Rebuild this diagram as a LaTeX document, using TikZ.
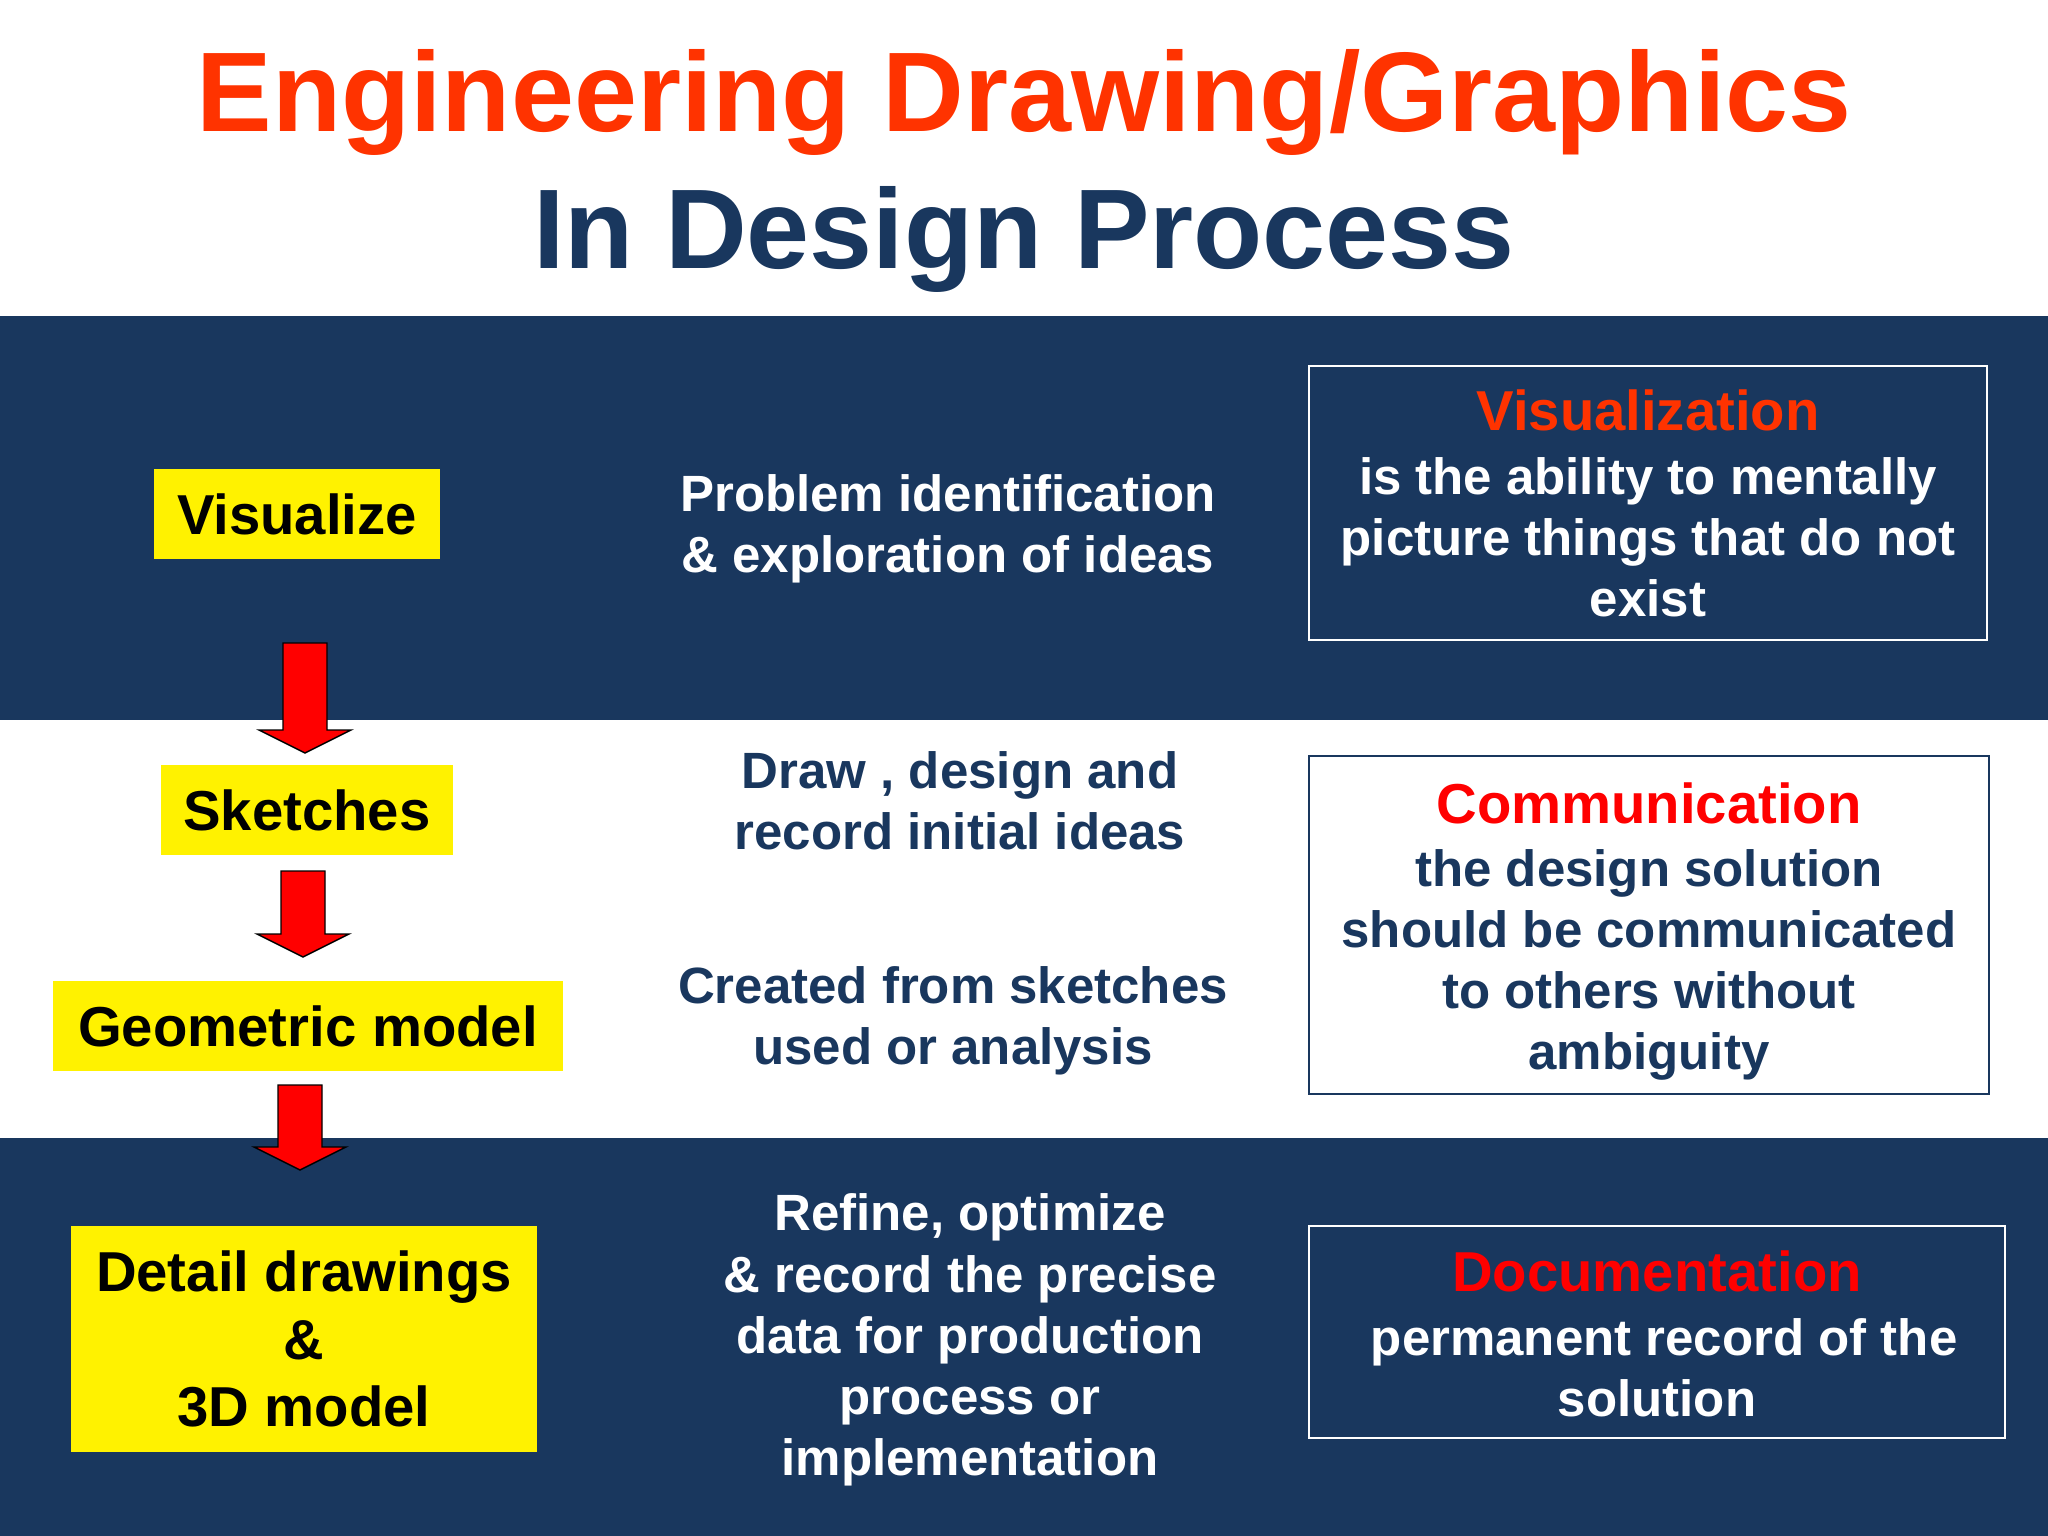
\documentclass[tikz,border=0pt]{standalone}
\usepackage{fontspec}
\setmainfont{Liberation Sans}
\usetikzlibrary{positioning}
\definecolor{navy}{RGB}{25,55,94}
\definecolor{titlered}{RGB}{255,51,0}
\definecolor{headred}{RGB}{255,0,0}
\newcommand{\titlefont}{\fontsize{32.2}{39}\selectfont\bfseries}
\newcommand{\headfont}{\fontsize{16}{19.2}\selectfont\bfseries}
\newcommand{\txtfont}{\fontsize{14.5}{17.4}\selectfont\bfseries}
\newcommand{\stagefont}{\fontsize{16}{19.1}\selectfont\bfseries}
\tikzset{stage/.style={fill=yellow, inner sep=0pt, align=center, font=\stagefont}}
\tikzset{note/.style={align=center, font=\txtfont, inner sep=0pt}}
\tikzset{infobox/.style={draw, line width=0.6pt, inner sep=0pt}}
\tikzset{head/.style={font=\headfont, inner sep=0pt}}
\tikzset{redarr/.style={fill=red, draw=black, line width=0.4pt, line join=miter}}
% block arrow: centre x, top y, tip y
\newcommand{\redarrow}[3]{%
  \draw[redarr] (#1-22,#2) -- (#1+22,#2) -- (#1+22,#3-23) -- (#1+46,#3-23)
    -- (#1,#3) -- (#1-46,#3-23) -- (#1-22,#3-23) -- cycle;}

\begin{document}
\begin{tikzpicture}[x=0.01cm, y=-0.01cm]
% bands
\fill[white] (0,0) rectangle (2048,1536);
\fill[navy] (0,316) rectangle (2048,720);
\fill[navy] (0,1138) rectangle (2048,1536);

% title
\node[anchor=base, inner sep=0pt, font=\titlefont, text=titlered] (title) at (1024,131) {Engineering Drawing/Graphics};
\node[anchor=base, inner sep=0pt, font=\titlefont, text=navy] (subtitle) at (1024,268) {In Design Process};

% stages
\node[stage, minimum width=2.86cm, minimum height=0.90cm] (vis) at (297,514) {Visualize};
\node[stage, minimum width=2.92cm, minimum height=0.90cm] (sk) at (307,810) {Sketches};
\node[stage, minimum width=5.09cm, minimum height=0.89cm] (geo) at (308,1026) {Geometric model};
\node[stage, minimum width=4.65cm, minimum height=2.26cm] (det) at (304,1339) {Detail drawings\\\&\\3D model};

\redarrow{305}{643}{753}
\redarrow{303}{871}{957}
\redarrow{300}{1085}{1170}

% middle column
\node[note, text=white] (prob) at (948,529) {Problem identification\\\& exploration of ideas};
\node[note, text=navy] (draw) at (960,801) {Draw , design and\\record initial ideas};
\node[note, text=navy] (created) at (953,1021) {Created from sketches\\used or analysis};
\node[note, text=white] (refine) at (970,1340) {Refine, optimize\\\& record the precise\\data for production\\process or\\implementation};

% right column
\node[infobox, draw=white, minimum width=6.78cm, minimum height=2.74cm] (visbox) at (1648,503) {};
\node[head, text=titlered] (vishead) at (1648,410) {Visualization};
\node[note, text=white] (visbody) at (1648,537) {is the ability to mentally\\picture things that do not\\exist};

\node[infobox, draw=navy, minimum width=6.80cm, minimum height=3.37cm] (combox) at (1649,925) {};
\node[head, text=headred] (comhead) at (1649,803) {Communication};
\node[note, text=navy] (combody) at (1649,965) {the design solution\\should be communicated\\to others without\\ambiguity};

\node[infobox, draw=white, minimum width=6.96cm, minimum height=2.12cm] (docbox) at (1657,1332) {};
\node[head, text=headred] (dochead) at (1657,1271) {Documentation};
\node[note, text=white] (docbody) at (1657,1368) {\hspace*{0.28em}permanent record of the\\solution};
\end{tikzpicture}
\end{document}
